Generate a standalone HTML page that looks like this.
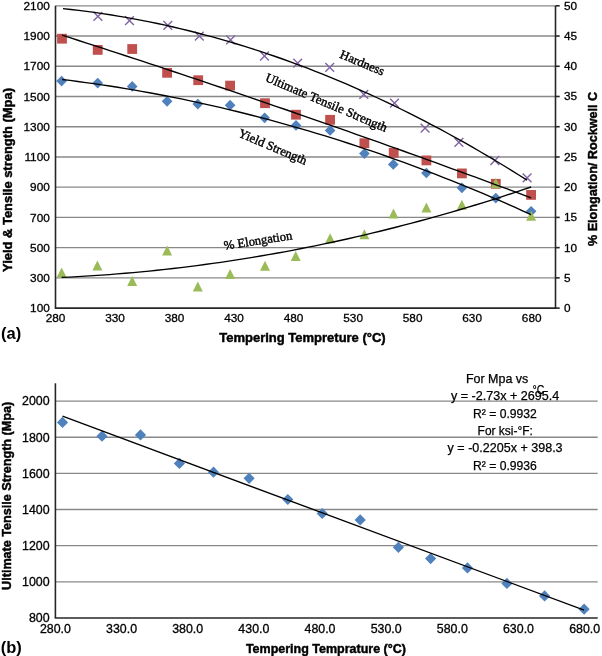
<!DOCTYPE html>
<html><head><meta charset="utf-8"><title>Tempering chart</title>
<style>
html,body{margin:0;padding:0;background:#fff;}
svg{display:block;}
.g{stroke:#888888;stroke-width:1.35;}
.ax{stroke:#262626;stroke-width:1.6;}
.tr{stroke:#000;stroke-width:1.35;fill:none;}
.tl{font-family:"Liberation Sans", sans-serif;font-size:12.4px;fill:#000;stroke:#000;stroke-width:0.3px;}
.tla{font-family:"Liberation Sans", sans-serif;font-size:11.8px;fill:#000;stroke:#000;stroke-width:0.3px;}
.bt{font-family:"Liberation Sans", sans-serif;font-size:12.8px;font-weight:bold;fill:#000;stroke:#000;stroke-width:0.45px;}
.lab{font-family:"Liberation Sans", sans-serif;font-size:16.5px;font-weight:bold;fill:#000;}
.cl{font-family:"Liberation Serif", serif;font-size:12.6px;fill:#000;stroke:#000;stroke-width:0.4px;}
.an{font-family:"Liberation Sans", sans-serif;font-size:12.2px;fill:#000;stroke:#000;stroke-width:0.25px;}
</style></head>
<body>
<svg width="602" height="656" viewBox="0 0 602 656">
<rect width="602" height="656" fill="#fff"/>
<line x1="55.5" y1="5.8" x2="555.5" y2="5.8" class="g"/>
<line x1="55.5" y1="36.03" x2="555.5" y2="36.03" class="g"/>
<line x1="55.5" y1="66.26" x2="555.5" y2="66.26" class="g"/>
<line x1="55.5" y1="96.49" x2="555.5" y2="96.49" class="g"/>
<line x1="55.5" y1="126.72" x2="555.5" y2="126.72" class="g"/>
<line x1="55.5" y1="156.95" x2="555.5" y2="156.95" class="g"/>
<line x1="55.5" y1="187.18" x2="555.5" y2="187.18" class="g"/>
<line x1="55.5" y1="217.41" x2="555.5" y2="217.41" class="g"/>
<line x1="55.5" y1="247.64" x2="555.5" y2="247.64" class="g"/>
<line x1="55.5" y1="277.87" x2="555.5" y2="277.87" class="g"/>
<text x="49.8" y="10" class="tla" text-anchor="end">2100</text>
<text x="49.8" y="40.23" class="tla" text-anchor="end">1900</text>
<text x="49.8" y="70.46" class="tla" text-anchor="end">1700</text>
<text x="49.8" y="100.69" class="tla" text-anchor="end">1500</text>
<text x="49.8" y="130.92" class="tla" text-anchor="end">1300</text>
<text x="49.8" y="161.15" class="tla" text-anchor="end">1100</text>
<text x="49.8" y="191.38" class="tla" text-anchor="end">900</text>
<text x="49.8" y="221.61" class="tla" text-anchor="end">700</text>
<text x="49.8" y="251.84" class="tla" text-anchor="end">500</text>
<text x="49.8" y="282.07" class="tla" text-anchor="end">300</text>
<text x="49.8" y="312.3" class="tla" text-anchor="end">100</text>
<line x1="555.5" y1="5.8" x2="559.7" y2="5.8" class="ax"/>
<text x="564.0" y="9.8" class="tla">50</text>
<line x1="555.5" y1="36.03" x2="559.7" y2="36.03" class="ax"/>
<text x="564.0" y="40.03" class="tla">45</text>
<line x1="555.5" y1="66.26" x2="559.7" y2="66.26" class="ax"/>
<text x="564.0" y="70.26" class="tla">40</text>
<line x1="555.5" y1="96.49" x2="559.7" y2="96.49" class="ax"/>
<text x="564.0" y="100.49" class="tla">35</text>
<line x1="555.5" y1="126.72" x2="559.7" y2="126.72" class="ax"/>
<text x="564.0" y="130.72" class="tla">30</text>
<line x1="555.5" y1="156.95" x2="559.7" y2="156.95" class="ax"/>
<text x="564.0" y="160.95" class="tla">25</text>
<line x1="555.5" y1="187.18" x2="559.7" y2="187.18" class="ax"/>
<text x="564.0" y="191.18" class="tla">20</text>
<line x1="555.5" y1="217.41" x2="559.7" y2="217.41" class="ax"/>
<text x="564.0" y="221.41" class="tla">15</text>
<line x1="555.5" y1="247.64" x2="559.7" y2="247.64" class="ax"/>
<text x="564.0" y="251.64" class="tla">10</text>
<line x1="555.5" y1="277.87" x2="559.7" y2="277.87" class="ax"/>
<text x="564.0" y="281.87" class="tla">5</text>
<line x1="555.5" y1="308.1" x2="559.7" y2="308.1" class="ax"/>
<text x="564.0" y="312.1" class="tla">0</text>
<text x="55.5" y="321.9" class="tla" text-anchor="middle">280</text>
<text x="115.02" y="321.9" class="tla" text-anchor="middle">330</text>
<text x="174.55" y="321.9" class="tla" text-anchor="middle">380</text>
<text x="234.07" y="321.9" class="tla" text-anchor="middle">430</text>
<text x="293.6" y="321.9" class="tla" text-anchor="middle">480</text>
<text x="353.12" y="321.9" class="tla" text-anchor="middle">530</text>
<text x="412.64" y="321.9" class="tla" text-anchor="middle">580</text>
<text x="472.17" y="321.9" class="tla" text-anchor="middle">630</text>
<text x="531.69" y="321.9" class="tla" text-anchor="middle">680</text>
<path d="M61.6,75.75 L66.95,81.1 L61.6,86.45 L56.25,81.1Z" fill="#4f81bd"/>
<path d="M97.7,77.75 L103.05,83.1 L97.7,88.45 L92.35,83.1Z" fill="#4f81bd"/>
<path d="M132.2,81.05 L137.55,86.4 L132.2,91.75 L126.85,86.4Z" fill="#4f81bd"/>
<path d="M167.1,95.95 L172.45,101.3 L167.1,106.65 L161.75,101.3Z" fill="#4f81bd"/>
<path d="M197.8,98.75 L203.15,104.1 L197.8,109.45 L192.45,104.1Z" fill="#4f81bd"/>
<path d="M230.1,99.85 L235.45,105.2 L230.1,110.55 L224.75,105.2Z" fill="#4f81bd"/>
<path d="M264.6,112.45 L269.95,117.8 L264.6,123.15 L259.25,117.8Z" fill="#4f81bd"/>
<path d="M296,120.05 L301.35,125.4 L296,130.75 L290.65,125.4Z" fill="#4f81bd"/>
<path d="M330.1,125.05 L335.45,130.4 L330.1,135.75 L324.75,130.4Z" fill="#4f81bd"/>
<path d="M364.4,148.25 L369.75,153.6 L364.4,158.95 L359.05,153.6Z" fill="#4f81bd"/>
<path d="M393.3,159.05 L398.65,164.4 L393.3,169.75 L387.95,164.4Z" fill="#4f81bd"/>
<path d="M426.4,167.65 L431.75,173 L426.4,178.35 L421.05,173Z" fill="#4f81bd"/>
<path d="M461.9,182.45 L467.25,187.8 L461.9,193.15 L456.55,187.8Z" fill="#4f81bd"/>
<path d="M495.8,192.75 L501.15,198.1 L495.8,203.45 L490.45,198.1Z" fill="#4f81bd"/>
<path d="M531.1,205.95 L536.45,211.3 L531.1,216.65 L525.75,211.3Z" fill="#4f81bd"/>
<rect x="57.1" y="33.8" width="9.8" height="9.8" fill="#c0504d"/>
<rect x="92.8" y="45" width="9.8" height="9.8" fill="#c0504d"/>
<rect x="127.3" y="44.1" width="9.8" height="9.8" fill="#c0504d"/>
<rect x="162.2" y="67.9" width="9.8" height="9.8" fill="#c0504d"/>
<rect x="193.3" y="75.3" width="9.8" height="9.8" fill="#c0504d"/>
<rect x="225.2" y="80.7" width="9.8" height="9.8" fill="#c0504d"/>
<rect x="260.1" y="98.3" width="9.8" height="9.8" fill="#c0504d"/>
<rect x="291.1" y="109.8" width="9.8" height="9.8" fill="#c0504d"/>
<rect x="325.2" y="114.9" width="9.8" height="9.8" fill="#c0504d"/>
<rect x="359.5" y="138.3" width="9.8" height="9.8" fill="#c0504d"/>
<rect x="388.8" y="147.9" width="9.8" height="9.8" fill="#c0504d"/>
<rect x="421.5" y="155.5" width="9.8" height="9.8" fill="#c0504d"/>
<rect x="457" y="168.5" width="9.8" height="9.8" fill="#c0504d"/>
<rect x="490.9" y="178.9" width="9.8" height="9.8" fill="#c0504d"/>
<rect x="526.2" y="190" width="9.8" height="9.8" fill="#c0504d"/>
<path d="M61.6,267.5 L66.6,277.5 L56.6,277.5Z" fill="#9bbb59"/>
<path d="M97.4,260.6 L102.4,270.6 L92.4,270.6Z" fill="#9bbb59"/>
<path d="M132.2,276 L137.2,286 L127.2,286Z" fill="#9bbb59"/>
<path d="M167.1,245.6 L172.1,255.6 L162.1,255.6Z" fill="#9bbb59"/>
<path d="M197.8,281.4 L202.8,291.4 L192.8,291.4Z" fill="#9bbb59"/>
<path d="M230.1,268.9 L235.1,278.9 L225.1,278.9Z" fill="#9bbb59"/>
<path d="M265,260.8 L270,270.8 L260,270.8Z" fill="#9bbb59"/>
<path d="M295.7,251 L300.7,261 L290.7,261Z" fill="#9bbb59"/>
<path d="M330.1,233.3 L335.1,243.3 L325.1,243.3Z" fill="#9bbb59"/>
<path d="M364.4,229.3 L369.4,239.3 L359.4,239.3Z" fill="#9bbb59"/>
<path d="M393.5,208.6 L398.5,218.6 L388.5,218.6Z" fill="#9bbb59"/>
<path d="M426.4,202.4 L431.4,212.4 L421.4,212.4Z" fill="#9bbb59"/>
<path d="M461.9,199.7 L466.9,209.7 L456.9,209.7Z" fill="#9bbb59"/>
<path d="M495.8,178 L500.8,188 L490.8,188Z" fill="#9bbb59"/>
<path d="M531.1,210.7 L536.1,220.7 L526.1,220.7Z" fill="#9bbb59"/>
<path d="M93.5,11.9 L102.3,20.7 M102.3,11.9 L93.5,20.7" stroke="#8064a2" stroke-width="1.4" fill="none"/>
<path d="M125.1,16.2 L133.9,25 M133.9,16.2 L125.1,25" stroke="#8064a2" stroke-width="1.4" fill="none"/>
<path d="M163.4,20.9 L172.2,29.7 M172.2,20.9 L163.4,29.7" stroke="#8064a2" stroke-width="1.4" fill="none"/>
<path d="M194.9,31.8 L203.7,40.6 M203.7,31.8 L194.9,40.6" stroke="#8064a2" stroke-width="1.4" fill="none"/>
<path d="M226.2,35.5 L235,44.3 M235,35.5 L226.2,44.3" stroke="#8064a2" stroke-width="1.4" fill="none"/>
<path d="M260.1,51.6 L268.9,60.4 M268.9,51.6 L260.1,60.4" stroke="#8064a2" stroke-width="1.4" fill="none"/>
<path d="M293.3,58.8 L302.1,67.6 M302.1,58.8 L293.3,67.6" stroke="#8064a2" stroke-width="1.4" fill="none"/>
<path d="M325.3,62.9 L334.1,71.7 M334.1,62.9 L325.3,71.7" stroke="#8064a2" stroke-width="1.4" fill="none"/>
<path d="M359.4,90 L368.2,98.8 M368.2,90 L359.4,98.8" stroke="#8064a2" stroke-width="1.4" fill="none"/>
<path d="M390.1,98.8 L398.9,107.6 M398.9,98.8 L390.1,107.6" stroke="#8064a2" stroke-width="1.4" fill="none"/>
<path d="M420.7,123.7 L429.5,132.5 M429.5,123.7 L420.7,132.5" stroke="#8064a2" stroke-width="1.4" fill="none"/>
<path d="M454.5,137.9 L463.3,146.7 M463.3,137.9 L454.5,146.7" stroke="#8064a2" stroke-width="1.4" fill="none"/>
<path d="M490.4,156.1 L499.2,164.9 M499.2,156.1 L490.4,164.9" stroke="#8064a2" stroke-width="1.4" fill="none"/>
<path d="M522.7,173.4 L531.5,182.2 M531.5,173.4 L522.7,182.2" stroke="#8064a2" stroke-width="1.4" fill="none"/>
<path d="M63,8.6 L70.87,9.46 L78.73,10.38 L86.6,11.37 L94.46,12.44 L102.33,13.57 L110.2,14.78 L118.06,16.06 L125.93,17.41 L133.79,18.83 L141.66,20.32 L149.53,21.88 L157.39,23.51 L165.26,25.21 L173.13,26.99 L180.99,28.83 L188.86,30.75 L196.72,32.73 L204.59,34.79 L212.46,36.92 L220.32,39.12 L228.19,41.39 L236.05,43.73 L243.92,46.14 L251.79,48.62 L259.65,51.18 L267.52,53.8 L275.38,56.5 L283.25,59.26 L291.12,62.1 L298.98,65.01 L306.85,67.99 L314.72,71.04 L322.58,74.16 L330.45,77.35 L338.31,80.61 L346.18,83.94 L354.05,87.35 L361.91,90.82 L369.78,94.37 L377.64,97.99 L385.51,101.67 L393.38,105.43 L401.24,109.26 L409.11,113.16 L416.97,117.13 L424.84,121.18 L432.71,125.29 L440.57,129.47 L448.44,133.73 L456.31,138.05 L464.17,142.45 L472.04,146.92 L479.9,151.46 L487.77,156.07 L495.64,160.75 L503.5,165.5 L511.37,170.32 L519.23,175.21 L527.1,180.17" class="tr"/>
<path d="M62,35.14 L69.95,37.69 L77.9,40.25 L85.85,42.81 L93.8,45.38 L101.75,47.96 L109.71,50.55 L117.66,53.14 L125.61,55.75 L133.56,58.35 L141.51,60.97 L149.46,63.59 L157.41,66.22 L165.36,68.86 L173.31,71.5 L181.26,74.15 L189.21,76.81 L197.16,79.47 L205.12,82.15 L213.07,84.83 L221.02,87.51 L228.97,90.2 L236.92,92.91 L244.87,95.61 L252.82,98.33 L260.77,101.05 L268.72,103.78 L276.67,106.52 L284.62,109.26 L292.57,112.01 L300.53,114.77 L308.48,117.53 L316.43,120.3 L324.38,123.08 L332.33,125.87 L340.28,128.66 L348.23,131.46 L356.18,134.27 L364.13,137.08 L372.08,139.91 L380.03,142.73 L387.98,145.57 L395.94,148.41 L403.89,151.26 L411.84,154.12 L419.79,156.98 L427.74,159.86 L435.69,162.74 L443.64,165.62 L451.59,168.51 L459.54,171.41 L467.49,174.32 L475.44,177.24 L483.39,180.16 L491.35,183.09 L499.3,186.02 L507.25,188.96 L515.2,191.91 L523.15,194.87 L531.1,197.83" class="tr"/>
<path d="M62,79.46 L69.95,80.44 L77.9,81.47 L85.85,82.55 L93.8,83.66 L101.75,84.83 L109.71,86.04 L117.66,87.29 L125.61,88.59 L133.56,89.93 L141.51,91.32 L149.46,92.76 L157.41,94.24 L165.36,95.76 L173.31,97.33 L181.26,98.94 L189.21,100.6 L197.16,102.31 L205.12,104.06 L213.07,105.85 L221.02,107.69 L228.97,109.58 L236.92,111.51 L244.87,113.48 L252.82,115.5 L260.77,117.57 L268.72,119.68 L276.67,121.83 L284.62,124.03 L292.57,126.28 L300.53,128.57 L308.48,130.9 L316.43,133.28 L324.38,135.71 L332.33,138.18 L340.28,140.7 L348.23,143.26 L356.18,145.86 L364.13,148.52 L372.08,151.21 L380.03,153.95 L387.98,156.74 L395.94,159.57 L403.89,162.45 L411.84,165.37 L419.79,168.34 L427.74,171.35 L435.69,174.4 L443.64,177.51 L451.59,180.65 L459.54,183.85 L467.49,187.08 L475.44,190.37 L483.39,193.69 L491.35,197.07 L499.3,200.48 L507.25,203.95 L515.2,207.45 L523.15,211.01 L531.1,214.6" class="tr"/>
<path d="M61.6,277.42 L69.56,277.05 L77.52,276.63 L85.47,276.17 L93.43,275.67 L101.39,275.13 L109.35,274.56 L117.3,273.94 L125.26,273.28 L133.22,272.59 L141.18,271.85 L149.13,271.08 L157.09,270.26 L165.05,269.4 L173.01,268.51 L180.96,267.57 L188.92,266.6 L196.88,265.58 L204.84,264.53 L212.79,263.43 L220.75,262.3 L228.71,261.12 L236.67,259.91 L244.63,258.66 L252.58,257.36 L260.54,256.03 L268.5,254.66 L276.46,253.24 L284.41,251.79 L292.37,250.3 L300.33,248.77 L308.29,247.19 L316.24,245.58 L324.2,243.93 L332.16,242.24 L340.12,240.51 L348.07,238.74 L356.03,236.92 L363.99,235.07 L371.95,233.18 L379.91,231.25 L387.86,229.28 L395.82,227.27 L403.78,225.22 L411.74,223.13 L419.69,221 L427.65,218.83 L435.61,216.62 L443.57,214.38 L451.52,212.09 L459.48,209.76 L467.44,207.39 L475.4,204.98 L483.35,202.53 L491.31,200.05 L499.27,197.52 L507.23,194.95 L515.18,192.34 L523.14,189.7 L531.1,187.01" class="tr"/>
<line x1="55.5" y1="5.8" x2="55.5" y2="308.1" class="ax"/>
<line x1="555.5" y1="5.8" x2="555.5" y2="308.1" class="ax"/>
<line x1="54.8" y1="308.1" x2="556.2" y2="308.1" class="ax"/>
<text class="cl" transform="translate(339.0,57.6) rotate(22.6)">Hardness</text>
<text class="cl" transform="translate(264.5,80.8) rotate(23)" style="font-size:12.8px">Ultimate Tensile Strength</text>
<text class="cl" transform="translate(237.6,136.3) rotate(23)">Yield Strength</text>
<text class="cl" transform="translate(224.6,249.8) rotate(-8.8)">% Elongation</text>
<text class="bt" transform="translate(12.1,272) rotate(-90)" textLength="184" lengthAdjust="spacingAndGlyphs">Yield &amp; Tensile strength (Mpa)</text>
<text class="bt" transform="translate(597.0,246.1) rotate(-90)" textLength="154.3" lengthAdjust="spacingAndGlyphs">% Elongation/ Rockwell C</text>
<text class="bt" x="219.3" y="342.1" textLength="166.4" lengthAdjust="spacingAndGlyphs">Tempering Tempreture (°C)</text>
<text class="lab" x="1.0" y="339.2">(a)</text>
<line x1="55.4" y1="581.8" x2="597.7" y2="581.8" class="g"/>
<line x1="55.4" y1="545.65" x2="597.7" y2="545.65" class="g"/>
<line x1="55.4" y1="509.5" x2="597.7" y2="509.5" class="g"/>
<line x1="55.4" y1="473.35" x2="597.7" y2="473.35" class="g"/>
<line x1="55.4" y1="437.2" x2="597.7" y2="437.2" class="g"/>
<line x1="55.4" y1="401.05" x2="597.7" y2="401.05" class="g"/>
<text x="49.6" y="622.25" class="tl" text-anchor="end">800</text>
<text x="49.6" y="586.1" class="tl" text-anchor="end">1000</text>
<text x="49.6" y="549.95" class="tl" text-anchor="end">1200</text>
<text x="49.6" y="513.8" class="tl" text-anchor="end">1400</text>
<text x="49.6" y="477.65" class="tl" text-anchor="end">1600</text>
<text x="49.6" y="441.5" class="tl" text-anchor="end">1800</text>
<text x="49.6" y="405.35" class="tl" text-anchor="end">2000</text>
<text x="55.4" y="633.2" class="tl" text-anchor="middle">280.0</text>
<text x="121.56" y="633.2" class="tl" text-anchor="middle">330.0</text>
<text x="187.71" y="633.2" class="tl" text-anchor="middle">380.0</text>
<text x="253.87" y="633.2" class="tl" text-anchor="middle">430.0</text>
<text x="320.02" y="633.2" class="tl" text-anchor="middle">480.0</text>
<text x="386.17" y="633.2" class="tl" text-anchor="middle">530.0</text>
<text x="452.33" y="633.2" class="tl" text-anchor="middle">580.0</text>
<text x="518.49" y="633.2" class="tl" text-anchor="middle">630.0</text>
<text x="584.64" y="633.2" class="tl" text-anchor="middle">680.0</text>
<path d="M62.5,416.8 L68.1,422.4 L62.5,428 L56.9,422.4Z" fill="#4f81bd"/>
<path d="M102,430.6 L107.6,436.2 L102,441.8 L96.4,436.2Z" fill="#4f81bd"/>
<path d="M140.5,429.3 L146.1,434.9 L140.5,440.5 L134.9,434.9Z" fill="#4f81bd"/>
<path d="M179.4,457.8 L185,463.4 L179.4,469 L173.8,463.4Z" fill="#4f81bd"/>
<path d="M213.5,466.6 L219.1,472.2 L213.5,477.8 L207.9,472.2Z" fill="#4f81bd"/>
<path d="M249.1,472.7 L254.7,478.3 L249.1,483.9 L243.5,478.3Z" fill="#4f81bd"/>
<path d="M287.8,493.9 L293.4,499.5 L287.8,505.1 L282.2,499.5Z" fill="#4f81bd"/>
<path d="M322.2,507.9 L327.8,513.5 L322.2,519.1 L316.6,513.5Z" fill="#4f81bd"/>
<path d="M360.2,514.3 L365.8,519.9 L360.2,525.5 L354.6,519.9Z" fill="#4f81bd"/>
<path d="M398.4,541.7 L404,547.3 L398.4,552.9 L392.8,547.3Z" fill="#4f81bd"/>
<path d="M430.6,553 L436.2,558.6 L430.6,564.2 L425,558.6Z" fill="#4f81bd"/>
<path d="M467.5,562.3 L473.1,567.9 L467.5,573.5 L461.9,567.9Z" fill="#4f81bd"/>
<path d="M506.9,577.8 L512.5,583.4 L506.9,589 L501.3,583.4Z" fill="#4f81bd"/>
<path d="M544.6,590.3 L550.2,595.9 L544.6,601.5 L539,595.9Z" fill="#4f81bd"/>
<path d="M584.1,603.6 L589.7,609.2 L584.1,614.8 L578.5,609.2Z" fill="#4f81bd"/>
<line x1="62.5" y1="416.2" x2="584.1" y2="610.2" class="tr"/>
<line x1="55.4" y1="383.3" x2="55.4" y2="617.95" class="ax"/>
<line x1="54.7" y1="617.95" x2="597.7" y2="617.95" class="ax"/>
<text class="an" x="465.9" y="383.3" textLength="62.4" lengthAdjust="spacingAndGlyphs">For Mpa vs</text>
<text class="an" x="532.5" y="394.3" textLength="11.8" lengthAdjust="spacingAndGlyphs">°C</text>
<text class="an" x="451" y="399.8" textLength="108.2" lengthAdjust="spacingAndGlyphs">y = -2.73x + 2695.4</text>
<text class="an" x="473" y="417.9" textLength="63.8" lengthAdjust="spacingAndGlyphs">R² = 0.9932</text>
<text class="an" x="477.6" y="435.2" textLength="55.2" lengthAdjust="spacingAndGlyphs">For ksi-°F:</text>
<text class="an" x="447.6" y="452.3" textLength="115" lengthAdjust="spacingAndGlyphs">y = -0.2205x + 398.3</text>
<text class="an" x="473" y="470.1" textLength="63.8" lengthAdjust="spacingAndGlyphs">R² = 0.9936</text>
<text class="bt" transform="translate(10.8,589.9) rotate(-90)" textLength="188" lengthAdjust="spacingAndGlyphs">Ultimate Tensile Strength (Mpa)</text>
<text class="bt" x="245.9" y="653.2" textLength="160" lengthAdjust="spacingAndGlyphs">Tempering Temprature (°C)</text>
<text class="lab" x="0.8" y="652.7">(b)</text>
</svg>
</body></html>
